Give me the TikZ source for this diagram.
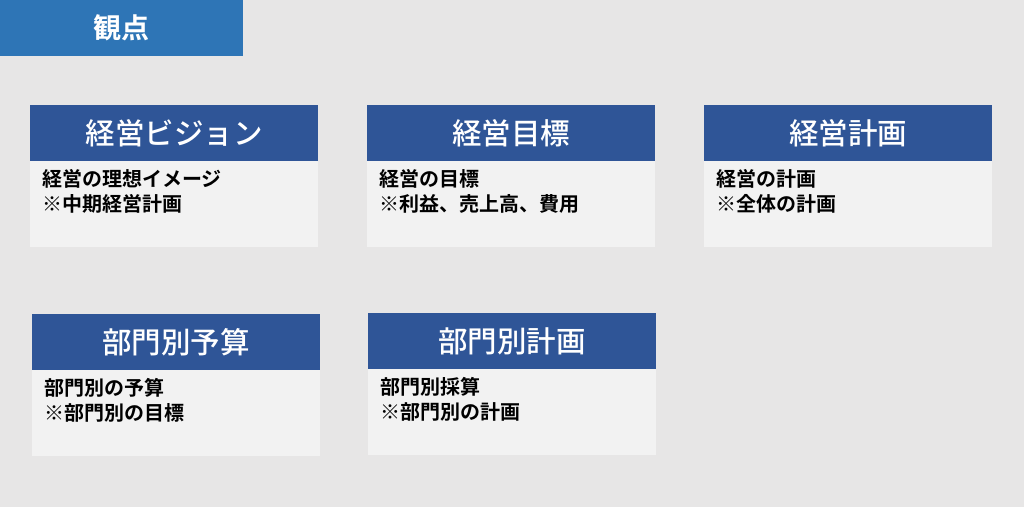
\documentclass[tikz,border=0pt]{standalone}
\usepackage{fontspec}
\setmainfont{Noto Sans CJK JP}[BoldFont={Noto Sans CJK JP Bold}]
\newfontfamily\medfont{Noto Sans CJK JP Medium}
\definecolor{bgc}{HTML}{E7E6E6}
\definecolor{tabc}{HTML}{2E75B6}
\definecolor{headc}{HTML}{2F5597}
\definecolor{bodyc}{HTML}{F2F2F2}
\tikzset{
  headbox/.style={fill=headc, draw=none, minimum width=288pt, minimum height=56pt, inner sep=0pt, anchor=north west, text=white, font=\fontsize{29.5}{32}\selectfont\medfont},
  bodybox/.style={fill=bodyc, draw=none, minimum width=288pt, minimum height=86pt, inner sep=0pt, anchor=north west},
  bodytext/.style={anchor=north west, inner sep=0pt, align=left, font=\fontsize{20}{25}\selectfont\bfseries, text=black},
}
\begin{document}
\begin{tikzpicture}[x=1pt,y=-1pt]
\useasboundingbox (0,0) rectangle (1024,507);
\fill[bgc] (0,0) rectangle (1024,507);
\node[fill=tabc, minimum width=243pt, minimum height=56pt, inner sep=0pt, anchor=north west, text=white, font=\fontsize{28}{30}\selectfont\bfseries] (tab) at (0,0) {観点};
% cards
\node[bodybox] (b1) at (30,161) {};
\node[headbox] (h1) at (30,105) {経営ビジョン};
\node[bodytext] (t1) at (42,169) {経営の理想イメージ\\※中期経営計画};
\node[bodybox] (b2) at (367,161) {};
\node[headbox] (h2) at (367,105) {経営目標};
\node[bodytext] (t2) at (379,169) {経営の目標\\※利益、売上高、費用};
\node[bodybox] (b3) at (704,161) {};
\node[headbox] (h3) at (704,105) {経営計画};
\node[bodytext] (t3) at (716,169) {経営の計画\\※全体の計画};
\node[bodybox] (b4) at (32,370) {};
\node[headbox] (h4) at (32,314) {部門別予算};
\node[bodytext] (t4) at (44,378) {部門別の予算\\※部門別の目標};
\node[bodybox] (b5) at (368,369) {};
\node[headbox] (h5) at (368,313) {部門別計画};
\node[bodytext] (t5) at (380,377) {部門別採算\\※部門別の計画};
\end{tikzpicture}
\end{document}
